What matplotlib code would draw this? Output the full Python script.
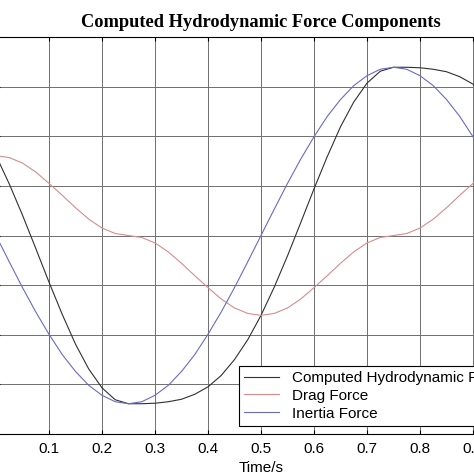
import matplotlib
matplotlib.use("Agg")
import matplotlib.pyplot as plt
import numpy as np

# values, every 0.025 s
time_s = [i * 0.025 for i in range(41)]
drag = [1.61, 1.57, 1.46, 1.28, 1.05, 0.81, 0.56, 0.33, 0.15, 0.04, 0.0,
        -0.04, -0.15, -0.33, -0.56, -0.81, -1.05, -1.28, -1.46, -1.57, -1.61,
        -1.57, -1.46, -1.28, -1.05, -0.81, -0.56, -0.33, -0.15, -0.04, 0.0,
        0.04, 0.15, 0.33, 0.56, 0.81, 1.05, 1.28, 1.46, 1.57, 1.61]
inertia = [0.0, -0.53, -1.05, -1.54, -1.99, -2.40, -2.74, -3.02, -3.22, -3.35, -3.39,
           -3.35, -3.22, -3.02, -2.74, -2.40, -1.99, -1.54, -1.05, -0.53, 0.0,
           0.53, 1.05, 1.54, 1.99, 2.40, 2.74, 3.02, 3.22, 3.35, 3.39,
           3.35, 3.22, 3.02, 2.74, 2.40, 1.99, 1.54, 1.05, 0.53, 0.0]
total = [1.61, 1.04, 0.41, -0.26, -0.94, -1.59, -2.19, -2.69, -3.07, -3.31, -3.39,
         -3.39, -3.38, -3.35, -3.30, -3.20, -3.05, -2.82, -2.50, -2.10, -1.61,
         -1.04, -0.41, 0.26, 0.94, 1.59, 2.19, 2.69, 3.07, 3.31, 3.39,
         3.39, 3.38, 3.35, 3.30, 3.20, 3.05, 2.82, 2.50, 2.10, 1.61]
labels = ["Computed Hydrodynamic Force", "Drag Force", "Inertia Force"]
xticks = [0, 0.1, 0.2, 0.3, 0.4, 0.5, 0.6, 0.7, 0.8, 0.9, 1.0]
xticklabels = ["", "0.1", "0.2", "0.3", "0.4", "0.5", "0.6", "0.7", "0.8", "0.9", "1"]
yticks = [-4, -3, -2, -1, 0, 1, 2, 3, 4]

W = 474
fig = plt.figure(figsize=(4.74, 4.74), dpi=100)
ax = fig.add_axes([-4 / W, 40 / W, 530 / W, 397 / W])

ax.plot(time_s, total, color="#303030", lw=0.8, label=labels[0])
ax.plot(time_s, drag, color="#d98c8c", lw=0.8, label=labels[1])
ax.plot(time_s, inertia, color="#6a6ac8", lw=0.8, label=labels[2])

ax.set_xlim(0, 1)
ax.set_ylim(-4, 4)
ax.set_xticks(xticks)
ax.set_xticklabels(xticklabels)
ax.set_yticks(yticks)
ax.grid(True, color="#6e6e6e", lw=0.7)
ax.tick_params(direction="in", top=True, right=True, length=3, labelsize=11)
ax.tick_params(axis="x", pad=6)
for lab in ax.get_xticklabels() + ax.get_yticklabels():
    lab.set_fontfamily("Liberation Sans")
for s in ax.spines.values():
    s.set_linewidth(0.8)

ax.set_xlabel("Time/s", fontsize=11, fontfamily="Liberation Sans", labelpad=3)
ax.set_title("Computed Hydrodynamic Force Components", fontsize=13.2,
             fontweight="bold", fontfamily="Liberation Serif", pad=7)

leg = ax.legend(loc="lower left", bbox_to_anchor=(239 / W, 48 / W),
                bbox_transform=fig.transFigure, borderaxespad=0,
                fancybox=False, edgecolor="black", framealpha=1,
                prop={"family": "Liberation Sans", "size": 11},
                handlelength=2.3, labelspacing=0.25, borderpad=0.35)
leg.get_frame().set_linewidth(0.8)

fig.savefig("out.png", dpi=100)
